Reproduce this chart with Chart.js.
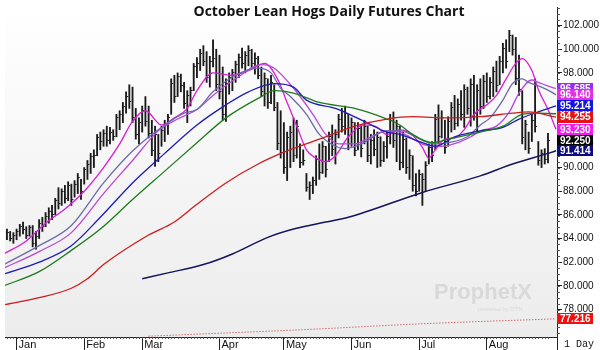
<!DOCTYPE html>
<html>
<head>
<meta charset="utf-8">
<script src="https://cdn.jsdelivr.net/npm/chart.js@4.4.0/dist/chart.umd.min.js"></script>
<style>
  html, body { margin: 0; padding: 0; background: #fff; }
  #wrap { width: 600px; height: 350px; }
</style>
</head>
<body>
<div id="wrap"><canvas id="hogs"></canvas></div>
<script>
// daily bars (index 0 = last days of Dec)
const highs = [84.8,84.6,84.5,84.8,85.2,85.4,85.0,85.1,85.1,84.6,85.6,85.8,86.2,86.6,86.8,87.4,88.3,88.2,88.5,88.8,
  88.6,88.9,89.5,89.0,90.0,90.6,91.2,91.5,92.8,93.0,93.2,93.5,93.4,93.2,94.5,94.8,95.5,96.4,97.0,96.8,
  95.0,94.2,95.2,96.0,95.2,94.0,93.5,92.8,93.5,94.0,94.5,97.5,97.8,98.0,97.9,97.2,96.5,96.8,98.8,99.3,
  100.0,100.3,99.8,99.4,100.8,100.0,99.5,98.5,97.5,98.0,98.3,99.0,99.6,100.1,99.8,100.3,100.0,99.7,99.4,98.5,
  98.0,97.5,97.8,97.0,95.5,94.8,93.8,93.0,93.5,94.2,94.0,92.0,91.5,89.5,88.8,89.2,91.0,92.0,92.2,91.8,
  93.0,93.6,93.2,94.5,95.0,95.2,94.5,94.2,93.8,93.8,93.5,94.0,93.5,92.8,93.2,93.0,92.6,92.2,93.0,94.5,
  94.7,94.0,93.5,93.0,92.5,91.5,91.0,89.5,89.8,89.5,90.5,92.0,92.2,94.5,95.3,94.8,94.0,94.3,95.5,96.1,
  95.8,96.5,97.0,96.8,97.5,97.8,97.0,97.5,97.8,98.0,97.6,98.5,99.0,99.4,100.5,100.8,101.6,101.2,101.0,99.5,
  96.5,94.0,93.0,94.5,97.5,92.2,91.5,91.6,92.9];
const lows = [83.9,83.8,83.6,83.9,84.2,84.4,84.0,84.2,83.3,83.1,84.0,84.6,85.0,85.3,85.6,86.0,86.5,86.8,87.0,87.2,
  86.8,87.5,87.8,87.3,88.6,89.0,89.5,90.0,91.0,91.5,91.8,91.8,92.0,92.3,92.6,93.2,93.8,94.6,95.0,93.8,
  92.4,92.0,93.0,93.5,92.5,91.0,90.1,90.5,91.8,92.2,92.8,94.5,95.5,96.0,96.4,95.0,93.8,95.2,96.5,97.6,
  98.2,98.6,97.2,96.8,98.5,96.5,95.8,94.0,93.9,96.2,96.5,97.2,97.6,98.4,98.0,98.6,98.4,97.9,97.5,96.0,
  95.2,95.0,95.4,94.8,91.5,90.8,89.5,88.9,90.0,90.5,90.8,90.0,90.2,88.0,87.3,87.8,88.5,89.0,89.5,89.2,
  90.5,91.0,90.3,92.5,93.0,92.8,91.5,91.8,91.0,91.5,90.9,92.0,90.5,90.3,91.0,90.0,90.1,90.5,90.8,92.0,
  91.7,90.5,89.8,90.0,89.5,89.0,88.0,87.6,88.0,86.8,88.0,90.3,90.5,91.5,92.0,92.5,91.2,91.8,93.0,93.2,
  93.5,94.0,93.4,94.5,93.5,94.0,93.1,94.5,95.0,95.5,95.8,96.0,96.4,97.0,98.0,98.4,99.8,99.5,97.0,96.1,
  92.0,91.5,91.2,92.2,93.0,90.2,90.0,90.3,90.4];
const closes = [84.5,84.0,84.3,84.6,85.0,84.8,84.3,84.9,83.6,84.2,85.3,85.0,85.9,86.3,86.0,87.2,87.0,88.0,87.4,88.5,
  87.3,88.6,89.2,88.0,89.8,90.3,90.9,91.0,92.5,92.2,92.9,92.3,93.0,92.6,94.2,94.5,95.2,96.0,95.6,94.2,
  92.8,93.8,94.8,93.9,92.9,91.4,92.8,91.2,93.1,93.7,94.2,97.1,96.0,97.7,96.9,95.4,96.1,96.5,98.5,98.8,
  99.6,99.0,97.6,99.0,99.2,97.0,96.4,94.5,97.1,97.6,98.0,98.7,99.3,98.8,99.5,99.9,98.8,99.2,97.8,96.4,
  97.5,95.5,97.2,95.1,92.0,91.3,90.0,92.5,93.0,91.0,93.5,90.4,90.6,88.3,88.5,88.9,90.7,89.6,91.8,89.8,
  92.6,91.5,92.8,94.1,93.5,94.6,92.0,93.8,91.4,93.3,91.6,93.5,91.0,92.3,91.5,92.5,90.6,91.8,92.6,94.0,
  92.3,93.5,90.4,92.4,90.0,91.0,88.5,88.0,89.4,89.0,90.2,91.7,91.0,94.1,92.6,94.2,91.7,93.9,95.1,93.7,
  95.3,94.5,96.6,95.0,97.0,94.6,96.5,95.2,97.3,96.0,97.2,98.1,96.9,99.0,100.1,99.0,101.2,100.0,97.5,96.6,
  92.5,93.6,91.6,94.0,93.5,90.6,91.2,90.7,92.25];

const monthNames = ["Jan", "Feb", "Mar", "Apr", "May", "Jun", "Jul", "Aug"];
const monthStart = [3, 24, 42, 66, 86, 107, 128, 149];
const yTicks = [78, 80, 82, 84, 86, 88, 90, 92, 94, 96, 98, 100, 102];

// moving average lines (bar index / value)
const magentaIdx = [-1, 6, 12, 18, 24, 30, 35, 39, 43, 48, 52, 56, 59, 64, 70, 75, 80, 84, 87, 90, 93, 96, 99, 102, 106, 111, 115, 118, 122, 126, 129, 131, 133, 136, 139, 142, 145, 149, 152, 155, 158, 160, 163, 165, 168, 170.5];
const magentaVal = [82.7, 83.8, 85.3, 86.5, 88.0, 90.0, 92.0, 93.9, 94.8, 93.6, 94.2, 95.0, 96.5, 98.0, 97.8, 98.2, 98.8, 97.5, 95.5, 93.5, 91.5, 90.8, 90.5, 91.0, 92.6, 93.6, 93.4, 92.8, 93.2, 92.7, 91.7, 90.8, 91.5, 92.4, 92.5, 93.2, 94.5, 95.3, 96.1, 97.5, 98.8, 99.2, 98.2, 96.6, 94.9, 93.23];
const violetIdx = [-1, 10, 20, 30, 39, 47, 53, 59, 64, 71, 79, 83, 89, 95, 99, 103, 108, 113, 118, 122, 130, 135, 140, 144, 147, 152, 156, 159, 163, 165, 169, 170.5];
const violetVal = [81.5, 82.9, 84.5, 87.8, 90.6, 93.1, 94.1, 94.9, 96.1, 97.5, 98.7, 98.4, 96.7, 94.5, 92.8, 92.0, 92.0, 92.6, 93.1, 93.0, 91.9, 91.8, 92.1, 92.6, 93.1, 93.5, 94.7, 96.3, 97.4, 97.2, 96.8, 96.685];
const slateIdx = [-1, 10, 20, 30, 39, 49, 55, 59, 64, 71, 78, 82, 85, 88, 93, 97, 102, 105, 110, 118, 122, 130, 133, 137, 143, 147, 150, 154, 157, 160, 162, 166, 169, 170.5];
const slateVal = [81.8, 83.4, 85.1, 88.7, 91.4, 93.6, 94.6, 94.9, 96.4, 97.8, 98.4, 98.0, 96.7, 96.0, 94.5, 92.8, 91.8, 91.6, 92.0, 93.1, 93.1, 92.2, 92.0, 92.1, 92.6, 93.6, 94.2, 95.7, 97.1, 97.5, 97.2, 96.8, 96.4, 96.14];
const blueIdx = [-1, 10, 20, 29, 39, 49, 59, 68, 75, 83, 89, 93, 102, 111, 118, 122, 129, 133, 139, 147, 154, 159, 165, 170.5];
const blueVal = [81.0, 82.0, 83.4, 85.8, 88.7, 91.2, 93.6, 95.3, 96.4, 97.1, 96.8, 95.7, 95.0, 93.9, 93.0, 92.8, 92.1, 91.8, 92.6, 93.1, 93.4, 94.1, 94.7, 95.214];
const greenIdx = [-1, 10, 20, 29, 39, 49, 59, 68, 79, 83, 89, 97, 108, 118, 122, 126, 132, 137, 147, 154, 160, 165, 170.5];
const greenVal = [80.0, 81.2, 83.0, 84.8, 87.3, 89.7, 92.1, 94.2, 96.0, 96.5, 96.3, 95.5, 95.0, 94.1, 93.6, 92.8, 92.1, 92.4, 93.0, 93.5, 94.5, 94.6, 94.55];
const redIdx = [-1, 10, 20, 25, 30, 44, 52, 59, 68, 78, 86, 97, 108, 118, 126, 137, 147, 157, 162, 170.5];
const redVal = [78.4, 79.0, 79.8, 80.6, 81.8, 84.3, 85.4, 86.9, 88.7, 90.3, 91.3, 92.4, 93.5, 94.1, 94.3, 94.2, 94.3, 94.6, 94.7, 94.255];
const navyIdx = [42, 50, 61, 70, 81, 89, 99, 106, 129, 147, 157, 168, 170.5];
const navyVal = [80.6, 81.1, 81.8, 82.7, 84.1, 84.8, 85.4, 85.8, 87.9, 89.3, 90.3, 91.2, 91.414];
const dottedIdx = [44, 92, 129, 170.5];
const dottedVal = [75.75, 76.3, 76.8, 77.216];

// last-value boxes on the price axis
const lastValues = [94.62, 96.685, 96.140, 95.214, 94.255, 93.230, 92.250, 91.414, 77.216];
const lastColors = ["#118a11", "#9a2cf0", "#e42ee4", "#1414e6", "#e41414", "#f01cf0", "#000000", "#0a0a80", "#f01010"];

const title = "October Lean Hogs Daily Futures Chart";

function pts(idx, val) {
  return idx.map((x, k) => ({ x: x, y: val[k] }));
}

// close tick drawn to the right of each bar
const tick = document.createElement("canvas");
tick.width = 6; tick.height = 1;
const tctx = tick.getContext("2d");
tctx.fillStyle = "#222";
tctx.fillRect(3, 0, 2, 1);

function maLine(idx, val, color, extra) {
  return Object.assign({
    type: "line",
    data: pts(idx, val),
    borderColor: color,
    borderWidth: 1.3,
    pointRadius: 0,
    fill: false,
    cubicInterpolationMode: "monotone",
    order: 1
  }, extra || {});
}

const decor = {
  id: "decor",
  beforeDraw(chart) {
    const { ctx, chartArea: a } = chart;
    ctx.save();
    ctx.fillStyle = "#fff";
    ctx.fillRect(0, 0, chart.width, chart.height);
    const g = ctx.createLinearGradient(0, a.top, 0, a.bottom);
    g.addColorStop(0, "#ffffff");
    g.addColorStop(1, "#ececec");
    ctx.fillStyle = g;
    ctx.fillRect(a.left, a.top, a.right - a.left, a.bottom - a.top);
    ctx.restore();
  },
  beforeDatasetsDraw(chart) {
    const { ctx } = chart;
    ctx.save();
    ctx.fillStyle = "#d9d9d9";
    ctx.font = "bold 22px 'Liberation Sans'";
    ctx.textAlign = "center";
    ctx.textBaseline = "middle";
    ctx.fillText("ProphetX", 483, 293);
    ctx.font = "6px 'Liberation Sans'";
    ctx.fillText("powered by DTN", 500, 309);
    ctx.restore();
  },
  afterDraw(chart) {
    const { ctx, chartArea: a } = chart;
    const ys = chart.scales.y, xs = chart.scales.x;
    ctx.save();
    // minor ticks on both axes
    ctx.fillStyle = "#555";
    for (let v = 76; v <= 103.5; v += 0.5) {
      const p = Math.round(ys.getPixelForValue(v));
      ctx.fillRect(a.right, p, 3, 1);
    }
    for (let i = 0; i < highs.length; i++) {
      const p = Math.round(xs.getPixelForValue(i));
      ctx.fillRect(p, a.bottom, 1, 2);
    }
    ctx.fillStyle = "#222";
    ctx.fillRect(a.right, a.bottom, 1, chart.height - a.bottom);

    // title
    ctx.fillStyle = "#111";
    ctx.font = "bold 14px 'Open Sans'";
    ctx.textAlign = "center";
    ctx.textBaseline = "middle";
    ctx.fillText(title, 329, 12);

    // last value boxes
    ctx.font = "bold 10px 'Liberation Sans'";
    ctx.textAlign = "left";
    lastValues.forEach((v, k) => {
      const p = ys.getPixelForValue(v);
      ctx.fillStyle = lastColors[k];
      ctx.fillRect(a.right, Math.round(p - 5.5), 36, 11);
      ctx.fillStyle = "#fff";
      ctx.fillText(v.toFixed(3), a.right + 3, p + 0.5);
    });

    ctx.fillStyle = "#111";
    ctx.font = "10px 'Liberation Mono'";
    ctx.fillText("1 Day", a.right + 7, 344);
    ctx.restore();
  }
};

new Chart(document.getElementById("hogs"), {
  type: "line",
  data: {
    datasets: [
      {
        type: "bar",
        data: highs.map((h, i) => ({ x: i, y: [lows[i], h] })),
        backgroundColor: "#1a1a1a",
        barThickness: 1.2,
        order: 10
      },
      {
        type: "scatter",
        data: closes.map((c, i) => ({ x: i, y: c })),
        pointStyle: tick,
        pointRadius: 3,
        order: 9
      },
      maLine(dottedIdx, dottedVal, "#c82828", { borderDash: [1, 2], borderWidth: 1 }),
      maLine(navyIdx, navyVal, "#14145e", { borderWidth: 1.5 }),
      maLine(redIdx, redVal, "#cc1c1c"),
      maLine(greenIdx, greenVal, "#1c7c1c"),
      maLine(blueIdx, blueVal, "#1c1cb8"),
      maLine(slateIdx, slateVal, "#6a6aaa"),
      maLine(violetIdx, violetVal, "#b848d8"),
      maLine(magentaIdx, magentaVal, "#d81cd8")
    ]
  },
  options: {
    responsive: true,
    maintainAspectRatio: false,
    animation: false,
    layout: { padding: 0 },
    plugins: {
      legend: { display: false },
      tooltip: { enabled: false },
      title: { display: false }
    },
    scales: {
      x: {
        type: "linear",
        min: -0.6,
        max: 170.8,
        offset: false,
        afterBuildTicks: (s) => { s.ticks = monthStart.map(v => ({ value: v })); },
        afterFit: (s) => { s.height = 13; },
        ticks: {
          autoSkip: false,
          maxRotation: 0,
          align: "start",
          labelOffset: 2,
          padding: -12,
          color: "#111",
          font: { family: "Liberation Sans", size: 11 },
          callback: (v, i) => monthNames[i]
        },
        grid: { drawOnChartArea: false, tickLength: 13, color: "#222", offset: false },
        border: { color: "#222" }
      },
      y: {
        position: "right",
        min: 75.68,
        max: 103.57,
        afterBuildTicks: (s) => { s.ticks = yTicks.map(v => ({ value: v })); },
        afterFit: (s) => { s.width = 43; },
        ticks: {
          padding: 1,
          color: "#111",
          font: { family: "Liberation Sans", size: 10 },
          callback: (v) => v.toFixed(3)
        },
        grid: { drawOnChartArea: false, tickLength: 5, color: "#222" },
        border: { color: "#222" }
      }
    }
  },
  plugins: [decor]
});
</script>
</body>
</html>
